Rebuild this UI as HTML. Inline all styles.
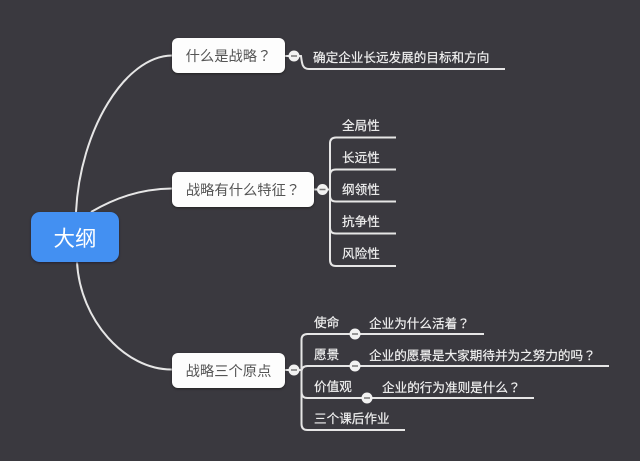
<!DOCTYPE html>
<html><head><meta charset="utf-8">
<style>
html,body{margin:0;padding:0;background:#3a393f;}
#c{position:relative;width:640px;height:461px;overflow:hidden;background:#3a393f;font-family:"Liberation Sans","Noto Sans CJK SC",sans-serif;filter:blur(.35px);}
svg{position:absolute;left:0;top:0}
.n{position:absolute;background:#fdfdfd;border-radius:6px;color:#555;font-size:14.300px;display:flex;align-items:center;justify-content:center;white-space:nowrap;box-shadow:0 1px 2px #222;}
.t{position:absolute;color:#f0f0f0;font-size:12.600px;line-height:16px;white-space:nowrap;-webkit-text-stroke:.2px #f0f0f0;}
.r{position:absolute;left:31px;top:212px;width:88px;height:50px;background:#4390f2;border-radius:9px;color:#fff;font-size:21.500px;display:flex;align-items:center;justify-content:center;box-shadow:0 1px 2px #223;}
i{font-style:normal;font-family:"Noto Sans CJK TC",sans-serif;}
</style></head><body>
<div id="c">
<svg width="640" height="461" fill="none" stroke="#e6e6e6" stroke-width="2">
<path d="M76 212C80 130 125 56 172 55.500"/>
<path d="M91 212C115 198 140 189 172 188.500"/>
<path d="M77 262C80 320 125 370 172 369.500"/>
<path d="M285 56H301C302 63 302 69 309 69H505"/>
<path d="M314 189.500H330"/>
<path d="M396 137.500H336Q330 137.500 330 143.500V260Q330 266 336 266H396"/>
<path d="M330 175Q330 169.500 336 169.500H396M330 196Q330 201.500 336 201.500H396M330 228Q330 233.500 336 233.500H396"/>
<path d="M285 370H301.500"/>
<path d="M484 334H307.500Q301.500 334 301.500 340V424Q301.500 430 307.500 430H405"/>
<path d="M301.500 372Q301.500 366 307.500 366H609M301.500 392Q301.500 398 307.500 398H534"/>
<g fill="#f2f2f2" stroke="none">
<circle cx="294" cy="56" r="5.500"/><circle cx="322.500" cy="189.500" r="5.500"/><circle cx="294" cy="370" r="5.500"/>
<circle cx="355" cy="334" r="5.500"/><circle cx="355" cy="366" r="5.500"/><circle cx="367" cy="398" r="5.500"/>
</g>
<g stroke="#777" stroke-width="1.500">
<path d="M291 56H297M319.500 189.500H325.500M291 370H297M352 334H358M352 366H358M364 398H370"/>
</g>
</svg>
<div class="r">大纲</div>
<div class="n" style="left:172px;top:38px;width:113px;height:35px">什么是战略<i>？</i></div>
<div class="n" style="left:172px;top:172px;width:142px;height:35px">战略有什么特征<i>？</i></div>
<div class="n" style="left:172px;top:353px;width:113px;height:35px">战略三个原点</div>
<div class="t" style="left:313px;top:50px">确定企业长远发展的目标和方向</div>
<div class="t" style="left:342px;top:118px">全局性</div>
<div class="t" style="left:342px;top:150px">长远性</div>
<div class="t" style="left:342px;top:182px">纲领性</div>
<div class="t" style="left:342px;top:214px">抗争性</div>
<div class="t" style="left:342px;top:246px">风险性</div>
<div class="t" style="left:314px;top:315px">使命</div>
<div class="t" style="left:314px;top:347px">愿景</div>
<div class="t" style="left:314px;top:379px">价值观</div>
<div class="t" style="left:314px;top:411px">三个课后作业</div>
<div class="t" style="left:369px;top:315px">企业为什么活着<i>？</i></div>
<div class="t" style="left:369px;top:347px">企业的愿景是大家期待并为之努力的吗<i>？</i></div>
<div class="t" style="left:382px;top:379px">企业的行为准则是什么<i>？</i></div>
</div>
</body></html>
